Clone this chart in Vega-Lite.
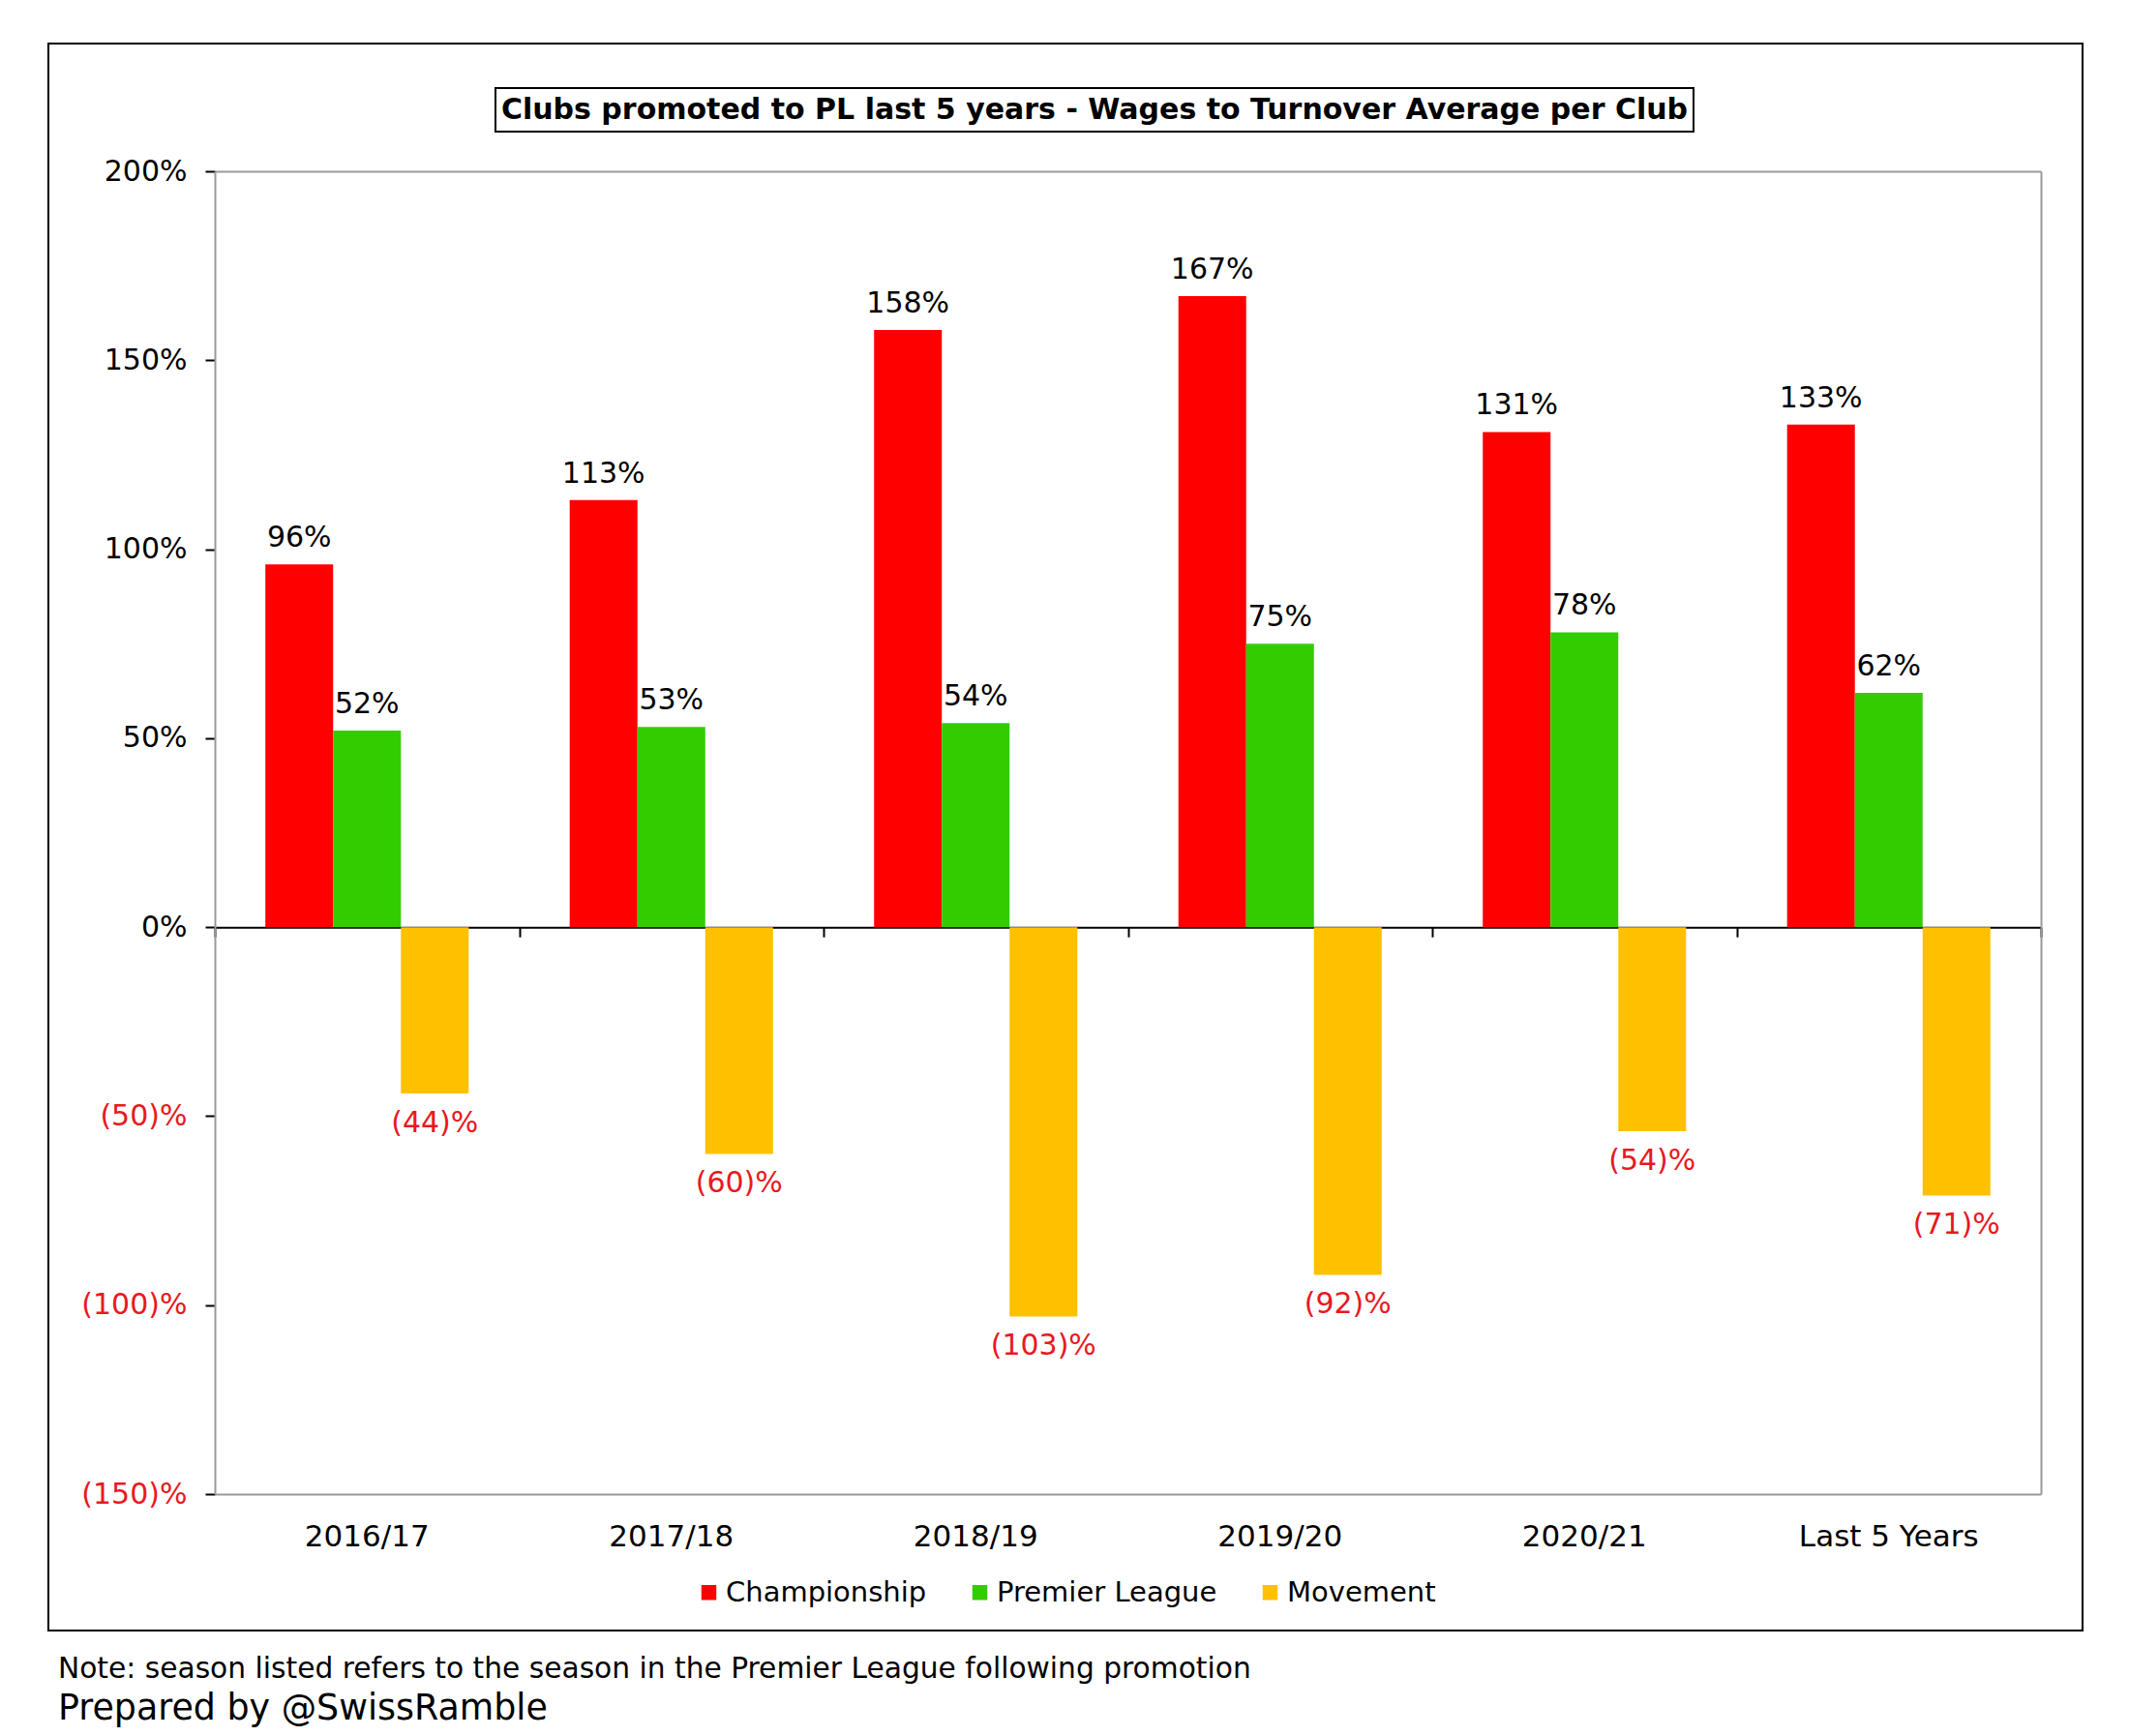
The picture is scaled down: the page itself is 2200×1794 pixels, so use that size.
{
  "$schema": "https://vega.github.io/schema/vega-lite/v6.json",
  "width": 2102,
  "height": 1640,
  "autosize": {"type": "none"},
  "padding": {"left": 50, "top": 45, "right": 48, "bottom": 109},
  "background": "white",
  "config": {
    "view": {"stroke": "black", "strokeWidth": 2},
    "font": "DejaVu Sans",
    "axis": {"labelFont": "DejaVu Sans", "titleFont": "DejaVu Sans", "grid": false},
    "legend": {"labelFont": "DejaVu Sans"}
  },
  "title": {
    "text": "Note: season listed refers to the season in the Premier League following promotion",
    "subtitle": "Prepared by @SwissRamble",
    "orient": "bottom",
    "anchor": "start",
    "frame": "group",
    "offset": 26,
    "dx": 10,
    "font": "DejaVu Sans",
    "fontSize": 29.7,
    "fontWeight": "normal",
    "color": "black",
    "subtitleFont": "DejaVu Sans",
    "subtitleFontSize": 36.4,
    "subtitleColor": "black",
    "subtitlePadding": 7
  },
  "datasets": {
    "wages": [
      {"season": "2016/17", "series": "Championship", "value": 96},
      {"season": "2016/17", "series": "Premier League", "value": 52},
      {"season": "2016/17", "series": "Movement", "value": -44},
      {"season": "2017/18", "series": "Championship", "value": 113},
      {"season": "2017/18", "series": "Premier League", "value": 53},
      {"season": "2017/18", "series": "Movement", "value": -60},
      {"season": "2018/19", "series": "Championship", "value": 158},
      {"season": "2018/19", "series": "Premier League", "value": 54},
      {"season": "2018/19", "series": "Movement", "value": -103},
      {"season": "2019/20", "series": "Championship", "value": 167},
      {"season": "2019/20", "series": "Premier League", "value": 75},
      {"season": "2019/20", "series": "Movement", "value": -92},
      {"season": "2020/21", "series": "Championship", "value": 131},
      {"season": "2020/21", "series": "Premier League", "value": 78},
      {"season": "2020/21", "series": "Movement", "value": -54},
      {"season": "Last 5 Years", "series": "Championship", "value": 133},
      {"season": "Last 5 Years", "series": "Premier League", "value": 62},
      {"season": "Last 5 Years", "series": "Movement", "value": -71}
    ],
    "heading": [
      {"t": "Clubs promoted to PL last 5 years - Wages to Turnover Average per Club"}
    ]
  },
  "data": {"name": "wages"},
  "layer": [
    {
      "encoding": {
        "x": {
          "field": "season", "type": "nominal", "sort": null,
          "scale": {"type": "band", "range": [172, 2059], "paddingInner": 0.332, "paddingOuter": 0.166},
          "axis": {
            "orient": "bottom", "offset": -141, "title": null,
            "domain": true, "domainColor": "#999999", "domainWidth": 2,
            "ticks": false, "tickSize": 0, "labelPadding": 29,
            "labelFontSize": 31, "labelColor": "black", "labelAngle": 0, "labelLimit": 400
          }
        },
        "xOffset": {
          "field": "series", "type": "nominal",
          "scale": {"domain": ["Championship", "Premier League", "Movement"], "paddingInner": 0, "paddingOuter": 0}
        },
        "y": {
          "field": "value", "type": "quantitative",
          "scale": {"domain": [-150, 200], "range": [1499, 132], "nice": false, "zero": false},
          "axis": {
            "orient": "left", "offset": -172, "title": null,
            "values": [-150, -100, -50, 0, 50, 100, 150, 200],
            "domain": true, "domainColor": "#999999", "domainWidth": 2,
            "ticks": true, "tickColor": "black", "tickWidth": 2, "tickSize": 10,
            "labelPadding": 19, "labelFontSize": 30,
            "labelExpr": "datum.value < 0 ? '(' + (-datum.value) + ')%' : datum.value + '%'",
            "labelColor": {"condition": {"test": "datum.value < 0", "value": "#E8191F"}, "value": "black"}
          }
        }
      },
      "layer": [
        {
          "mark": {"type": "bar"},
          "encoding": {
            "color": {
              "field": "series", "type": "nominal",
              "scale": {"domain": ["Championship", "Premier League", "Movement"], "range": ["#FF0000", "#33CC00", "#FFC000"]},
              "legend": {
                "orient": "none", "legendX": 668, "legendY": 1586,
                "direction": "horizontal", "title": null,
                "symbolType": "square", "symbolSize": 240, "symbolStrokeWidth": 0,
                "labelFontSize": 29, "labelColor": "black", "labelOffset": 3, "labelLimit": 500,
                "columnPadding": 40, "padding": 0
              }
            }
          }
        },
        {
          "transform": [
            {"filter": "datum.value >= 0"},
            {"calculate": "datum.value + '%'", "as": "lab"}
          ],
          "mark": {"type": "text", "baseline": "alphabetic", "dy": -18, "fontSize": 30, "color": "black", "font": "DejaVu Sans"},
          "encoding": {"text": {"field": "lab", "type": "nominal"}}
        },
        {
          "transform": [
            {"filter": "datum.value < 0"},
            {"calculate": "'(' + (-datum.value) + ')%'", "as": "lab"}
          ],
          "mark": {"type": "text", "baseline": "top", "dy": 16, "fontSize": 30, "color": "#E8191F", "font": "DejaVu Sans"},
          "encoding": {"text": {"field": "lab", "type": "nominal"}}
        }
      ]
    },
    {
      "mark": {"type": "bar", "opacity": 0},
      "encoding": {
        "x": {
          "field": "season", "type": "nominal", "sort": null,
          "scale": {"type": "band", "range": [172, 2059], "paddingInner": 0.332, "paddingOuter": 0.166},
          "axis": {"orient": "top", "offset": -132, "title": null, "domain": true, "domainColor": "#999999", "domainWidth": 2, "ticks": false, "labels": false}
        },
        "y": {
          "field": "value", "type": "quantitative",
          "scale": {"domain": [-150, 200], "range": [1499, 132], "nice": false, "zero": false},
          "axis": {"orient": "right", "offset": -43, "title": null, "domain": true, "domainColor": "#999999", "domainWidth": 2, "ticks": false, "labels": false, "grid": false}
        }
      }
    },
    {
      "mark": {"type": "bar", "opacity": 0},
      "encoding": {
        "x": {
          "field": "season", "type": "nominal", "sort": null,
          "scale": {"type": "band", "range": [172, 2059], "paddingInner": 0, "paddingOuter": 0},
          "axis": {"orient": "bottom", "offset": -726.86, "title": null, "domain": true, "domainColor": "black", "domainWidth": 2, "ticks": true, "tickColor": "black", "tickWidth": 2, "tickSize": 10, "tickBand": "extent", "labels": false}
        },
        "y": {
          "field": "value", "type": "quantitative",
          "scale": {"domain": [-150, 200], "range": [1499, 132], "nice": false, "zero": false},
          "axis": null
        }
      }
    },
    {
      "data": {"name": "heading"},
      "encoding": {
        "x": {"field": "t", "type": "nominal", "scale": {"type": "band", "range": [462, 1700], "paddingInner": 0, "paddingOuter": 0}, "axis": null},
        "y": {"field": "t", "type": "nominal", "scale": {"type": "band", "range": [46, 91], "paddingInner": 0, "paddingOuter": 0}, "axis": null}
      },
      "layer": [
        {"mark": {"type": "rect", "fill": "white", "stroke": "black", "strokeWidth": 2}},
        {
          "mark": {"type": "text", "fontSize": 30, "fontWeight": "bold", "font": "DejaVu Sans", "color": "black", "baseline": "middle"},
          "encoding": {"text": {"field": "t", "type": "nominal"}}
        }
      ]
    }
  ],
  "resolve": {
    "scale": {"x": "independent", "y": "independent"},
    "axis": {"x": "independent", "y": "independent"}
  }
}
